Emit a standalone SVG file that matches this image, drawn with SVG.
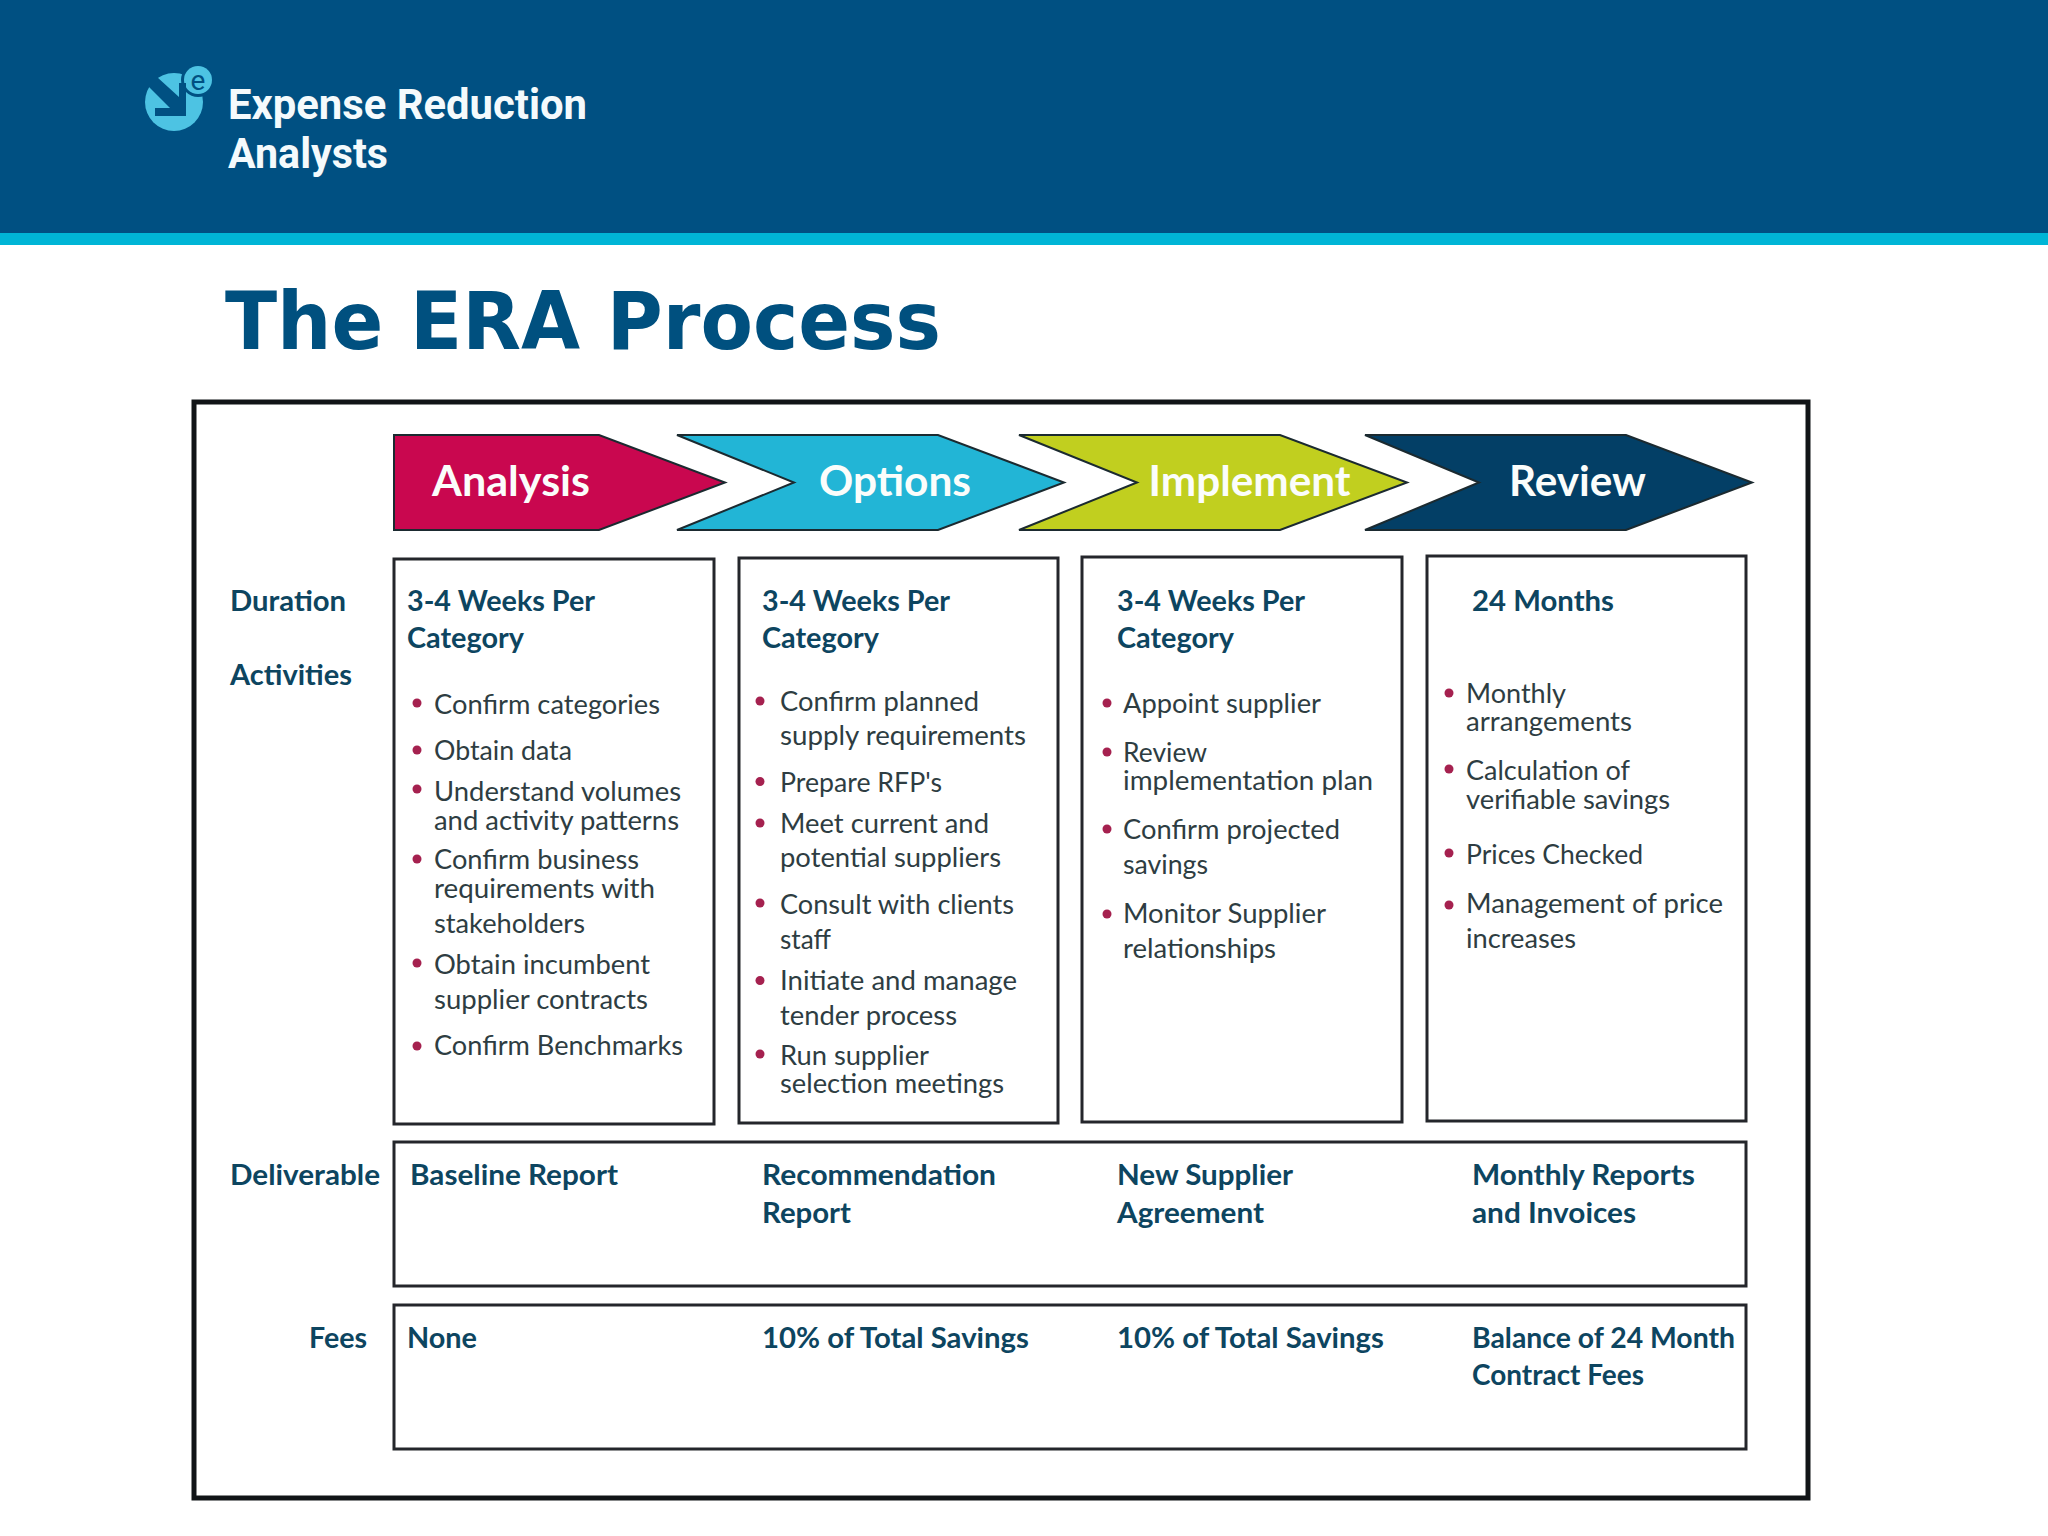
<svg xmlns="http://www.w3.org/2000/svg" width="2048" height="1536" viewBox="0 0 2048 1536">
<style>
text{font-family:"Lato","Liberation Sans",sans-serif}
.b{font-size:27px;fill:#2e3d42;transform:translate(-1px,.8px)}
.h{font-size:28.500px;font-weight:700;fill:#0d4560;transform:translate(-1px,.5px)}
.a{font-size:42px;font-weight:700;fill:#fbfdfb;transform:translate(-1px,0)}
.box{fill:#fff;stroke:#24262b;stroke-width:3}
.chev{stroke:#1b2a30;stroke-width:2}
.dot{fill:#a5214f}
.logo{font-family:"Roboto","Liberation Sans",sans-serif;font-size:42px;font-weight:700;fill:#f4fafc}
</style>
<rect width="2048" height="1536" fill="#fff"/>
<g id="header">
<rect width="2048" height="233" fill="#005082"/>
<rect y="233" width="2048" height="12" fill="#00b5d6"/>
</g>
<g id="logo">
<ellipse cx="174" cy="102" rx="29" ry="29" fill="#4dc3e3"/>
<circle cx="198" cy="80" r="17" fill="#005082"/>
<circle cx="198" cy="80" r="14" fill="#4dc3e3"/>
<polygon fill="#005082" points="157,77 179,97 179,83 186,83 186,116 155,116 155,108 170,108 147,85"/>
<text x="198" y="90" text-anchor="middle" style="font-family:'Roboto','Liberation Sans',sans-serif;font-size:28px;font-weight:400;fill:#005082">e</text>
<text class="logo" x="228" y="119" textLength="359" lengthAdjust="spacingAndGlyphs">Expense Reduction</text>
<text class="logo" x="228" y="168" textLength="160" lengthAdjust="spacingAndGlyphs">Analysts</text>
</g>
<text id="title" x="225" y="349" textLength="716" lengthAdjust="spacingAndGlyphs" style="font-family:'DejaVu Sans','Liberation Sans',sans-serif;font-size:80px;font-weight:700;fill:#00507f">The ERA Process</text>
<rect id="frame" x="194" y="402" width="1614" height="1096" fill="#fff" stroke="#111417" stroke-width="5"/>
<g id="chevron-analysis">
<polygon class="chev" fill="#c9074f" points="394,435 599,435 725,482.500 599,530 394,530"/>
<text class="a" x="433" y="496" textLength="158" lengthAdjust="spacingAndGlyphs">Analysis</text>
</g>
<g id="chevron-options">
<polygon class="chev" fill="#22b5d6" points="677,435 938,435 1064,482.500 938,530 677,530 794,482.500"/>
<text class="a" x="820" y="496" textLength="152" lengthAdjust="spacingAndGlyphs">Options</text>
</g>
<g id="chevron-implement">
<polygon class="chev" fill="#c1cf1f" points="1019,435 1280,435 1407,482.500 1280,530 1019,530 1137,482.500"/>
<text class="a" x="1149.500" y="496" textLength="202" lengthAdjust="spacingAndGlyphs">Implement</text>
</g>
<g id="chevron-review">
<polygon class="chev" fill="#033f66" points="1365,435 1626,435 1752,482.500 1626,530 1365,530 1479,482.500"/>
<text class="a" x="1510" y="496" textLength="137" lengthAdjust="spacingAndGlyphs">Review</text>
</g>
<g id="row-labels">
<text class="h" x="231" y="610" textLength="116" lengthAdjust="spacingAndGlyphs">Duration</text>
<text class="h" x="231" y="684" textLength="122" lengthAdjust="spacingAndGlyphs">Activities</text>
<text class="h" x="231" y="1184" textLength="150" lengthAdjust="spacingAndGlyphs">Deliverable</text>
<text class="h" x="310" y="1347" textLength="58" lengthAdjust="spacingAndGlyphs">Fees</text>
</g>
<g id="box-analysis">
<rect class="box" x="394" y="559" width="320" height="565"/>
<text class="h" x="408" y="610" textLength="188" lengthAdjust="spacingAndGlyphs">3-4 Weeks Per</text>
<text class="h" x="408" y="647" textLength="117" lengthAdjust="spacingAndGlyphs">Category</text>
<circle class="dot" cx="417" cy="703" r="4.500"/><circle class="dot" cx="417" cy="750" r="4.500"/><circle class="dot" cx="417" cy="789" r="4.500"/><circle class="dot" cx="417" cy="859" r="4.500"/><circle class="dot" cx="417" cy="963" r="4.500"/><circle class="dot" cx="417" cy="1046" r="4.500"/>
<text class="b" x="435" y="713" textLength="226" lengthAdjust="spacingAndGlyphs">Confirm categories</text>
<text class="b" x="435" y="759" textLength="138" lengthAdjust="spacingAndGlyphs">Obtain data</text>
<text class="b" x="435" y="800" textLength="247" lengthAdjust="spacingAndGlyphs">Understand volumes</text>
<text class="b" x="435" y="829" textLength="245" lengthAdjust="spacingAndGlyphs">and activity patterns</text>
<text class="b" x="435" y="868" textLength="205" lengthAdjust="spacingAndGlyphs">Confirm business</text>
<text class="b" x="435" y="897" textLength="221" lengthAdjust="spacingAndGlyphs">requirements with</text>
<text class="b" x="435" y="932" textLength="151" lengthAdjust="spacingAndGlyphs">stakeholders</text>
<text class="b" x="435" y="973" textLength="216" lengthAdjust="spacingAndGlyphs">Obtain incumbent</text>
<text class="b" x="435" y="1008" textLength="214" lengthAdjust="spacingAndGlyphs">supplier contracts</text>
<text class="b" x="435" y="1054" textLength="249" lengthAdjust="spacingAndGlyphs">Confirm Benchmarks</text>
</g>
<g id="box-options">
<rect class="box" x="739" y="558" width="319" height="565"/>
<text class="h" x="763" y="610" textLength="188" lengthAdjust="spacingAndGlyphs">3-4 Weeks Per</text>
<text class="h" x="763" y="647" textLength="117" lengthAdjust="spacingAndGlyphs">Category</text>
<circle class="dot" cx="760" cy="701" r="4.500"/><circle class="dot" cx="760" cy="781.500" r="4.500"/><circle class="dot" cx="760" cy="823" r="4.500"/><circle class="dot" cx="760" cy="903" r="4.500"/><circle class="dot" cx="760" cy="980.500" r="4.500"/><circle class="dot" cx="760" cy="1054" r="4.500"/>
<text class="b" x="781" y="710" textLength="199" lengthAdjust="spacingAndGlyphs">Confirm planned</text>
<text class="b" x="781" y="744" textLength="246" lengthAdjust="spacingAndGlyphs">supply requirements</text>
<text class="b" x="781" y="791" textLength="162" lengthAdjust="spacingAndGlyphs">Prepare RFP's</text>
<text class="b" x="781" y="832" textLength="209" lengthAdjust="spacingAndGlyphs">Meet current and</text>
<text class="b" x="781" y="866" textLength="221" lengthAdjust="spacingAndGlyphs">potential suppliers</text>
<text class="b" x="781" y="913" textLength="234" lengthAdjust="spacingAndGlyphs">Consult with clients</text>
<text class="b" x="781" y="948" textLength="51" lengthAdjust="spacingAndGlyphs">staff</text>
<text class="b" x="781" y="989" textLength="237" lengthAdjust="spacingAndGlyphs">Initiate and manage</text>
<text class="b" x="781" y="1024" textLength="177" lengthAdjust="spacingAndGlyphs">tender process</text>
<text class="b" x="781" y="1064" textLength="149" lengthAdjust="spacingAndGlyphs">Run supplier</text>
<text class="b" x="781" y="1092" textLength="224" lengthAdjust="spacingAndGlyphs">selection meetings</text>
</g>
<g id="box-implement">
<rect class="box" x="1082" y="557" width="320" height="565"/>
<text class="h" x="1118" y="610" textLength="188" lengthAdjust="spacingAndGlyphs">3-4 Weeks Per</text>
<text class="h" x="1118" y="647" textLength="117" lengthAdjust="spacingAndGlyphs">Category</text>
<circle class="dot" cx="1107" cy="703" r="4.500"/><circle class="dot" cx="1107" cy="752" r="4.500"/><circle class="dot" cx="1107" cy="829" r="4.500"/><circle class="dot" cx="1107" cy="914" r="4.500"/>
<text class="b" x="1124" y="712" textLength="198" lengthAdjust="spacingAndGlyphs">Appoint supplier</text>
<text class="b" x="1124" y="761" textLength="84" lengthAdjust="spacingAndGlyphs">Review</text>
<text class="b" x="1124" y="789" textLength="250" lengthAdjust="spacingAndGlyphs">implementation plan</text>
<text class="b" x="1124" y="838" textLength="217" lengthAdjust="spacingAndGlyphs">Confirm projected</text>
<text class="b" x="1124" y="873" textLength="85" lengthAdjust="spacingAndGlyphs">savings</text>
<text class="b" x="1124" y="922" textLength="203" lengthAdjust="spacingAndGlyphs">Monitor Supplier</text>
<text class="b" x="1124" y="957" textLength="153" lengthAdjust="spacingAndGlyphs">relationships</text>
</g>
<g id="box-review">
<rect class="box" x="1427" y="556" width="319" height="565"/>
<text class="h" x="1473" y="610" textLength="142" lengthAdjust="spacingAndGlyphs">24 Months</text>
<circle class="dot" cx="1449" cy="693" r="4.500"/><circle class="dot" cx="1449" cy="769" r="4.500"/><circle class="dot" cx="1449" cy="853" r="4.500"/><circle class="dot" cx="1449" cy="905" r="4.500"/>
<text class="b" x="1467" y="702" textLength="100" lengthAdjust="spacingAndGlyphs">Monthly</text>
<text class="b" x="1467" y="730" textLength="166" lengthAdjust="spacingAndGlyphs">arrangements</text>
<text class="b" x="1467" y="779" textLength="164" lengthAdjust="spacingAndGlyphs">Calculation of</text>
<text class="b" x="1467" y="808" textLength="204" lengthAdjust="spacingAndGlyphs">verifiable savings</text>
<text class="b" x="1467" y="863" textLength="177" lengthAdjust="spacingAndGlyphs">Prices Checked</text>
<text class="b" x="1467" y="912" textLength="257" lengthAdjust="spacingAndGlyphs">Management of price</text>
<text class="b" x="1467" y="947" textLength="110" lengthAdjust="spacingAndGlyphs">increases</text>
</g>
<g id="box-deliverable">
<rect class="box" x="394" y="1142" width="1352" height="144"/>
<text class="h" x="411" y="1184" textLength="208" lengthAdjust="spacingAndGlyphs">Baseline Report</text>
<text class="h" x="763" y="1184" textLength="234" lengthAdjust="spacingAndGlyphs">Recommendation</text>
<text class="h" x="763" y="1222" textLength="89" lengthAdjust="spacingAndGlyphs">Report</text>
<text class="h" x="1118" y="1184" textLength="176" lengthAdjust="spacingAndGlyphs">New Supplier</text>
<text class="h" x="1118" y="1222" textLength="147" lengthAdjust="spacingAndGlyphs">Agreement</text>
<text class="h" x="1473" y="1184" textLength="223" lengthAdjust="spacingAndGlyphs">Monthly Reports</text>
<text class="h" x="1473" y="1222" textLength="164" lengthAdjust="spacingAndGlyphs">and Invoices</text>
</g>
<g id="box-fees">
<rect class="box" x="394" y="1305" width="1352" height="144"/>
<text class="h" x="408" y="1347" textLength="70" lengthAdjust="spacingAndGlyphs">None</text>
<text class="h" x="763" y="1347" textLength="267" lengthAdjust="spacingAndGlyphs">10% of Total Savings</text>
<text class="h" x="1118" y="1347" textLength="267" lengthAdjust="spacingAndGlyphs">10% of Total Savings</text>
<text class="h" x="1473" y="1347" textLength="263" lengthAdjust="spacingAndGlyphs">Balance of 24 Month</text>
<text class="h" x="1473" y="1384" textLength="172" lengthAdjust="spacingAndGlyphs">Contract Fees</text>
</g>
</svg>
